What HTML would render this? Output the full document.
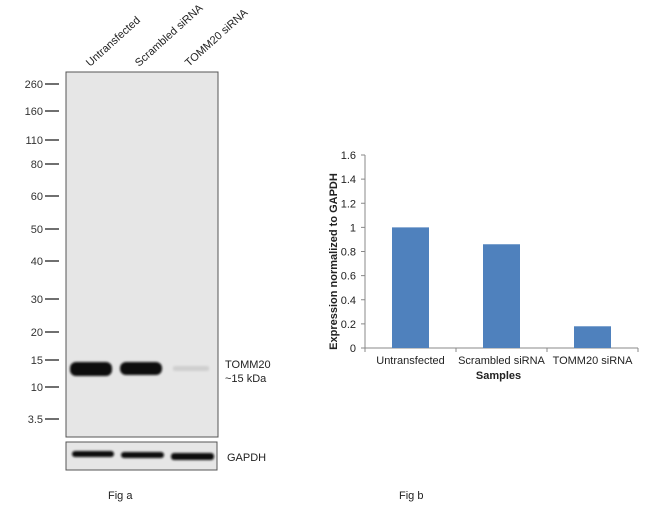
<!DOCTYPE html>
<html><head><meta charset="utf-8"><style>
body{margin:0;background:#fff;font-family:"Liberation Sans",Arial,sans-serif;}
svg text{font-family:"Liberation Sans",Arial,sans-serif;}
</style></head><body>
<svg id="fig" width="650" height="510" xmlns="http://www.w3.org/2000/svg">
<defs>
<filter id="blur1"><feGaussianBlur stdDeviation="1"/></filter>
</defs>
<g id="blot">
  <rect x="66" y="72" width="152" height="365" fill="#e6e6e6" stroke="#555" stroke-width="1"/>
  <rect x="66" y="442" width="151" height="28" fill="#e6e6e6" stroke="#555" stroke-width="1"/>
  <g filter="url(#blur1)">
    <rect x="70" y="362" width="42" height="14" rx="6" fill="#0a0a0a"/>
    <rect x="120" y="362" width="42" height="13" rx="6" fill="#0e0e0e"/>
    <rect x="173" y="366" width="36" height="5" rx="2" fill="#cfcfcf"/>
    <rect x="72" y="451" width="42" height="6" rx="3" fill="#111"/>
    <rect x="121" y="452" width="43" height="6" rx="3" fill="#111"/>
    <rect x="171" y="453" width="43" height="7" rx="3" fill="#0a0a0a"/>
  </g>
  <g id="markers" font-size="11" fill="#333"></g>
  <text x="225" y="368" font-size="11" fill="#222">TOMM20</text>
  <text x="225" y="382" font-size="11" fill="#222">~15 kDa</text>
  <text x="227" y="461" font-size="11" fill="#222">GAPDH</text>
  <text transform="translate(90,67) rotate(-42)" font-size="11" fill="#222">Untransfected</text>
  <text transform="translate(139,67) rotate(-42)" font-size="11" fill="#222">Scrambled siRNA</text>
  <text transform="translate(189,67) rotate(-42)" font-size="11" fill="#222">TOMM20 siRNA</text>
  <text x="108" y="499" font-size="11" fill="#222">Fig a</text>
</g>
<g id="chart"></g>
<text x="399" y="499" font-size="11" fill="#222">Fig b</text>
</svg>
<script>
const markerLabels = ["260","160","110","80","60","50","40","30","20","15","10","3.5"];
const markerY = [84,111,140,164,196,229,261,299,332,360,387,419];
const categories = ["Untransfected","Scrambled siRNA","TOMM20 siRNA"];
const values = [1.0, 0.86, 0.18];
const yTicks = [0,0.2,0.4,0.6,0.8,1,1.2,1.4,1.6];
const yTickLabels = ["0","0.2","0.4","0.6","0.8","1","1.2","1.4","1.6"];

const NS="http://www.w3.org/2000/svg";
function mk(tag,attrs,parent){const e=document.createElementNS(NS,tag);for(const k in attrs)e.setAttribute(k,attrs[k]);parent.appendChild(e);return e;}

const mg=document.getElementById('markers');
markerLabels.forEach((l,i)=>{
  const t=mk('text',{x:43,y:markerY[i]+4,'text-anchor':'end'},mg);
  t.textContent=l;
  
  
  const ln=mk('line',{x1:45,x2:59,y1:markerY[i],y2:markerY[i],stroke:'#222','stroke-width':1.3},mg);
  
  
});

const cg=document.getElementById('chart');
const x0=365,x1=638,y0=348,y1=155,ymax=1.6;
const yS=v=>y0-(v/ymax)*(y0-y1);
const band=(x1-x0)/categories.length;
const xC=i=>x0+band*(i+0.5);
const yAxis=mk('line',{x1:x0,x2:x0,y1:y1,y2:y0,stroke:'#888'},cg);


const xAxis=mk('line',{x1:x0,x2:x1,y1:y0,y2:y0,stroke:'#888'},cg);


yTicks.forEach((v,i)=>{
  const y=yS(v);
  const tk=mk('line',{x1:x0-4,x2:x0,y1:y,y2:y,stroke:'#888'},cg);
  
  
  const t=mk('text',{x:x0-9,y:y+4,'text-anchor':'end','font-size':11,fill:'#222'},cg);
  t.textContent=yTickLabels[i];
  
  
});
for(let i=0;i<=categories.length;i++){
  const tk=mk('line',{x1:x0+band*i,x2:x0+band*i,y1:y0,y2:y0+4,stroke:'#888'},cg);
  
  
}
const bw=37;
categories.forEach((c,i)=>{
  const r=mk('rect',{x:xC(i)-bw/2,y:yS(values[i]),width:bw,height:y0-yS(values[i]),fill:'#4f81bd'},cg);
  
  
  const t=mk('text',{x:xC(i),y:y0+16,'text-anchor':'middle','font-size':11,fill:'#222'},cg);
  t.textContent=c;
  
  
});
const xt=mk('text',{x:(x0+x1)/2-3,y:y0+31,'text-anchor':'middle','font-size':11,'font-weight':'bold',fill:'#222'},cg);
xt.textContent='Samples';


const yt=mk('text',{transform:`translate(337,${(y0+y1)/2+10}) rotate(-90)`,'text-anchor':'middle','font-size':11,'font-weight':'bold',fill:'#222'},cg);
yt.textContent='Expression normalized to GAPDH';


</script>
</body></html>
